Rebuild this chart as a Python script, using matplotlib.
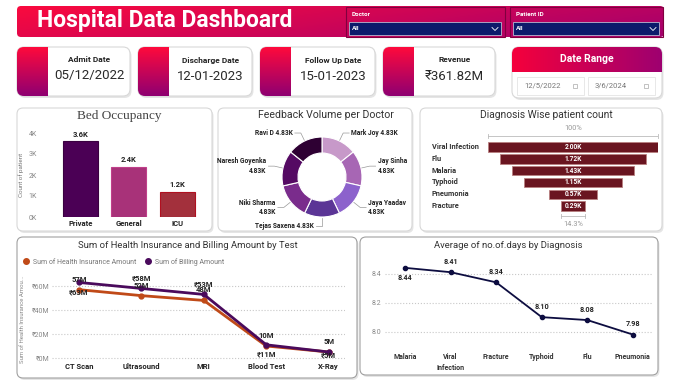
import matplotlib
matplotlib.use('Agg')
import matplotlib.pyplot as plt
import numpy as np
from matplotlib.patches import FancyBboxPatch, Rectangle
from matplotlib.colors import LinearSegmentedColormap
from matplotlib.lines import Line2D

plt.rcParams['font.family'] = ['Roboto', 'DejaVu Sans']

W, H = 680, 382

# ---- data ----
kpi_labels = ['Admit Date', 'Discharge Date', 'Follow Up Date', 'Revenue']
kpi_values = ['05/12/2022', '12-01-2023', '15-01-2023', '₹361.82M']
date_from, date_to = '12/5/2022', '3/6/2024'

bed_types = ['Private', 'General', 'ICU']
bed_counts = [3600, 2400, 1200]

doctors = ['Mark Joy', 'Jay Sinha', 'Jaya Yaadav', 'Tejas Saxena',
           'Niki Sharma', 'Naresh Goyenka', 'Ravi D']
feedback = [4830, 4830, 4830, 4830, 4830, 4830, 4830]

diagnoses = ['Viral Infection', 'Flu', 'Malaria', 'Typhoid', 'Pneumonia', 'Fracture']
diag_counts = [2000, 1720, 1430, 1150, 570, 286]

tests = ['CT Scan', 'Ultrasound', 'MRI', 'Blood Test', 'X-Ray']
insurance = [57, 52, 48, 10, 5]
billing = [63, 58, 53, 11, 5]

stay_diag = ['Malaria', 'Viral\nInfection', 'Fracture', 'Typhoid', 'Flu', 'Pneumonia']
avg_days = [8.44, 8.41, 8.34, 8.10, 8.08, 7.98]

fig = plt.figure(figsize=(6.8, 3.82), dpi=100)
bg = fig.add_axes([0, 0, 1, 1])
bg.axis('off')


def frac(x, y, w, h):
    return [x / W, 1 - (y + h) / H, w / W, h / H]


def rbox(x, y, w, h, r, **kw):
    return FancyBboxPatch((x, y), w, h, boxstyle=f'round,pad=0,rounding_size={r}', **kw)


def gradient(x, y, w, h, c1, c2, mode='h', clip=None, z=2):
    if mode == 'h':
        arr = np.linspace(0, 1, 256)[None, :]
    elif mode == 'v':
        arr = np.linspace(0, 1, 256)[:, None]
    else:
        X, Y = np.meshgrid(np.linspace(0, 1, 256), np.linspace(0, 1, 64))
        arr = 0.75 * X + 0.25 * Y
    cmap = LinearSegmentedColormap.from_list('g', [c1, c2])
    im = bg.imshow(arr, cmap=cmap, extent=(x, x + w, y + h, y), aspect='auto',
                   zorder=z, interpolation='bilinear')
    if clip is not None:
        bg.add_patch(clip)
        im.set_clip_path(clip)


def card(x, y, w, h, r=6, edge='#d8d8d8'):
    bg.add_patch(rbox(x + 1.5, y + 2, w, h, r, fc='#000000', alpha=0.10, ec='none', zorder=0.5))
    p = rbox(x, y, w, h, r, fc='white', ec=edge, lw=0.8, zorder=1)
    bg.add_patch(p)
    return p


# ---- header ----
gradient(17, 6, 647, 31, '#fa0a3e', '#a3006e', 'd',
         clip=rbox(17, 6, 647, 31, 4, fc='none', ec='none'))
bg.text(165, 20, 'Hospital Data Dashboard', color='white', fontsize=16.5,
        fontweight='bold', ha='center', va='center', zorder=3)
for sx, sw, lab in [(346, 159, 'Doctor'), (510, 153, 'Patient ID')]:
    bg.add_patch(Rectangle((sx, 7), sw, 30, fc='none', ec='#80003f', lw=0.8, zorder=3))
    bg.text(sx + 6, 14, lab, color='white', fontsize=4.5, fontweight='bold',
            ha='left', va='center', zorder=3)
    bg.add_patch(Rectangle((sx + 3, 22), sw - 7, 13, fc='#0c1a6b', ec='#b8b8d0', lw=0.6, zorder=3))
    bg.text(sx + 6, 29, 'All', color='white', fontsize=4.5, fontweight='bold',
            ha='left', va='center', zorder=4)
    ex = sx + sw - 10
    bg.plot([ex - 3, ex, ex + 3], [27.5, 30.5, 27.5], color='white', lw=0.6, zorder=4)

# ---- KPI cards ----
kx = [17, 138, 260, 383]
kw = [113, 114, 115, 112]
for x, w, lab, val in zip(kx, kw, kpi_labels, kpi_values):
    p = card(x, 47, w, 49, r=7)
    gradient(x, 47, 31, 49, '#ff0a3c', '#8e0072', 'v',
             clip=rbox(x, 47, w, 49, 7, fc='none', ec='none'))
    cx = x + 31 + (w - 31) / 2
    bg.text(cx, 60, lab, fontsize=6, fontweight='semibold', color='#222222',
            ha='center', va='center', zorder=3)
    bg.text(cx, 76, val, fontsize=9.5, color='#2a2a2a',
            ha='center', va='center', zorder=3)

# date range card
card(512, 47, 150, 51, r=7)
gradient(512, 47, 150, 25, '#f5003c', '#9e0070', 'h',
         clip=rbox(512, 47, 150, 51, 7, fc='none', ec='none'))
bg.text(587, 59.5, 'Date Range', color='white', fontsize=7.5, fontweight='bold',
        ha='center', va='center', zorder=3)
for bx, d in [(517, date_from), (588, date_to)]:
    bg.add_patch(Rectangle((bx, 77), 67, 18, fc='white', ec='#e4e4e4', lw=0.6, zorder=2))
    bg.text(bx + 7, 86, d, fontsize=5.5, color='#777777', ha='left', va='center', zorder=3)
    bg.add_patch(Rectangle((bx + 56, 84), 4, 4, fc='none', ec='#aaaaaa', lw=0.5, zorder=3))

# ---- panels ----
card(17, 108, 195, 123)
card(218, 108, 194, 123)
card(420, 108, 242, 123)
card(17, 237, 340, 141, r=6, edge='#a0a0a0')
card(360, 237, 298, 138, r=6, edge='#a0a0a0')

# ---- Bed occupancy ----
bg.text(119, 115.5, 'Bed Occupancy', family='Liberation Serif', fontsize=9.5,
        color='#444444', ha='center', va='center', zorder=3)
ax1 = fig.add_axes(frac(45, 133, 155, 84))
ax1.bar(range(3), bed_counts, width=0.72, color=['#4b0055', '#a83279', '#a3303c'],
        edgecolor=['#3a0040', '#c0408a', '#b01020'], lw=0.8)
for i, v in enumerate(bed_counts):
    ax1.text(i, v + 180, f'{v / 1000:.1f}K', ha='center', va='bottom',
             fontsize=5.5, fontweight='bold', color='#222222')
ax1.set_xlim(-0.725, 2.46)
ax1.set_ylim(0, 4000)
ax1.set_yticks([0, 1000, 2000, 3000, 4000])
ax1.set_yticklabels([f'{v // 1000}K' for v in [0, 1000, 2000, 3000, 4000]])
ax1.set_xticks(range(3))
ax1.set_xticklabels(bed_types, fontweight='bold')
ax1.tick_params(axis='y', length=0, labelsize=5, labelcolor='#888888', pad=6)
ax1.tick_params(axis='x', length=0, labelsize=5.5, labelcolor='#222222', pad=2)
ax1.set_ylabel('Count of patient', fontsize=4.5, color='#777777')
ax1.yaxis.set_label_coords(-0.135, 0.5)
for s in ax1.spines.values():
    s.set_visible(False)
ax1.patch.set_alpha(0)

# ---- Feedback donut ----
bg.text(326, 115.5, 'Feedback Volume per Doctor', fontsize=7.6, color='#333333',
        ha='center', va='center', zorder=3)
ax2 = fig.add_axes(frac(222, 127, 200, 100))
donut_cols = ['#c799c9', '#a766b4', '#8c62cc', '#5b3596', '#7a2c8c', '#550a63', '#2e0033']
ax2.pie(feedback, colors=donut_cols, startangle=90, counterclock=False, radius=1,
        wedgeprops=dict(width=0.4, edgecolor='white', linewidth=0.8))
ax2.set_aspect('auto')
ax2.set_xlim(-2.5, 2.5)
ax2.set_ylim(-1.25, 1.25)
ax2.axis('off')
one_line = [True, False, False, True, False, False, True]
total = sum(feedback)
ang = 90.0
for name, v, inline in zip(doctors, feedback, one_line):
    span = v / total * 360
    mid = np.radians(ang - span / 2)
    ang -= span
    c, s = np.cos(mid), np.sin(mid)
    p0 = (1.02 * c, 1.02 * s)
    p1 = (1.22 * c, 1.22 * s)
    side = 1 if c > 0.01 else -1
    p2 = (p1[0] + side * 0.15, p1[1])
    ax2.plot([p0[0], p1[0], p2[0]], [p0[1], p1[1], p2[1]], color='#999999', lw=0.5,
             clip_on=False)
    txt = f'{name} {v / 1000:.2f}K' if inline else f'{name}\n{v / 1000:.2f}K'
    ax2.text(p2[0] + side * 0.05, p2[1], txt, ha='left' if side > 0 else 'right',
             va='center', fontsize=4.8, fontweight='bold', color='#222222',
             linespacing=1.3, clip_on=False)

# ---- Diagnosis funnel ----
bg.text(546, 115.5, 'Diagnosis Wise patient count', fontsize=7.4, color='#333333',
        ha='center', va='center', zorder=3)
ax3 = fig.add_axes(frac(488, 120, 170, 112))
dc = np.array(diag_counts)
ax3.barh(range(len(dc)), dc, left=-dc / 2, height=0.8, color='#6a1520',
         edgecolor='#b88080', lw=0.6)
for i, v in enumerate(dc):
    ax3.text(0, i, f'{v / 1000:.2f}K', ha='center', va='center', fontsize=4.8,
             fontweight='bold', color='white')
    ax3.text(-1659, i, diagnoses[i], ha='left', va='center', fontsize=5.3,
             fontweight='bold', color='#333333', clip_on=False)
ax3.set_xlim(-1000, 1000)
ax3.set_ylim(7.2, -2.29)
top, bot = dc[0] / 2, dc[-1] / 2
ax3.plot([-top, top], [-0.93, -0.93], color='#bbbbbb', lw=0.6)
ax3.plot([-top, -top], [-1.1, -0.76], color='#bbbbbb', lw=0.6)
ax3.plot([top, top], [-1.1, -0.76], color='#bbbbbb', lw=0.6, clip_on=False)
ax3.text(0, -1.55, '100%', ha='center', va='center', fontsize=5.3, color='#999999')
ax3.plot([-bot, bot], [5.85, 5.85], color='#bbbbbb', lw=0.6)
ax3.plot([-bot, -bot], [5.68, 6.02], color='#bbbbbb', lw=0.6)
ax3.plot([bot, bot], [5.68, 6.02], color='#bbbbbb', lw=0.6)
ax3.text(0, 6.6, f'{dc[-1] / dc[0] * 100:.1f}%', ha='center', va='center',
         fontsize=5.3, color='#999999')
ax3.axis('off')

# ---- Insurance vs billing ----
bg.text(188, 246, 'Sum of Health Insurance and Billing Amount by Test', fontsize=6.8,
        color='#333333', ha='center', va='center', zorder=3)
ax4 = fig.add_axes(frac(52, 272, 293, 90))
xi = np.arange(len(tests))
ins_col, bill_col = '#c04a18', '#4a0a5c'
ax4.plot(xi, insurance, color=ins_col, lw=2, marker='o', ms=3.5, zorder=3)
ax4.plot(xi, billing, color=bill_col, lw=2, marker='o', ms=3.5, zorder=4)
for i, v in enumerate(insurance):
    ax4.annotate(f'{v}M', (i, v), xytext=(0, 7.6), textcoords='offset points',
                 ha='center', va='center', fontsize=5.5, fontweight='bold', color='#222222',
                 zorder=5)
bill_off = [-6.9, 7.5, 7.3, -6.6, -2.5]
for i, (v, off) in enumerate(zip(billing, bill_off)):
    ax4.annotate(f'₹{v}M', (i, v), xytext=(0, off), textcoords='offset points',
                 ha='center', va='center', fontsize=5.5, fontweight='bold', color='#222222',
                 zorder=5)
ax4.set_xlim(-0.43, 4.26)
ax4.set_ylim(-3.33, 71.7)
ax4.set_yticks([0, 20, 40, 60])
ax4.set_yticklabels([f'₹{v}M' for v in [0, 20, 40, 60]])
ax4.set_xticks(xi)
ax4.set_xticklabels(tests, fontweight='bold')
ax4.yaxis.grid(True, ls=':', color='#c8c8c8', lw=0.8)
ax4.tick_params(axis='y', length=0, labelsize=5, labelcolor='#888888', pad=2)
ax4.tick_params(axis='x', length=0, labelsize=5.5, labelcolor='#222222', pad=1)
ax4.set_ylabel('Sum of Health Insurance Amou...', fontsize=4.3, color='#888888')
ax4.yaxis.set_label_coords(-0.092, 0.48)
for s in ax4.spines.values():
    s.set_visible(False)
ax4.patch.set_alpha(0)
handles = [Line2D([], [], ls='none', marker='o', ms=4, color=ins_col),
           Line2D([], [], ls='none', marker='o', ms=4, color=bill_col)]
fig.legend(handles, ['Sum of Health Insurance Amount', 'Sum of Billing Amount'],
           loc='center left', bbox_to_anchor=(19 / W, 1 - 262 / H), ncol=2, frameon=False,
           fontsize=5, labelcolor='#777777', handletextpad=0.05, columnspacing=0.6,
           borderaxespad=0, borderpad=0)

# ---- Average days ----
bg.text(508, 246, 'Average of no.of.days by Diagnosis', fontsize=6.8, color='#333333',
        ha='center', va='center', zorder=3)
ax5 = fig.add_axes(frac(385, 250, 267, 95))
xs = np.arange(len(avg_days))
ax5.plot(xs, avg_days, color='#0d0d40', lw=1.3, marker='o', ms=3, zorder=3)
day_off = [-7.4, 7.3, 7.3, 7.3, 7.3, 7.3]
for i, (v, off) in enumerate(zip(avg_days, day_off)):
    ax5.annotate(f'{v:.2f}', (i, v), xytext=(0, off), textcoords='offset points',
                 ha='center', va='center', fontsize=5.2, fontweight='bold', color='#222222')
ax5.set_xlim(-0.44, 5.42)
ax5.set_ylim(7.908, 8.563)
ax5.set_yticks([8.0, 8.2, 8.4])
ax5.set_yticklabels(['8.0', '8.2', '8.4'])
ax5.set_xticks(xs)
ax5.set_xticklabels(stay_diag, fontweight='bold', linespacing=1.4)
ax5.yaxis.grid(True, ls=':', color='#c8c8c8', lw=0.8)
ax5.tick_params(axis='y', length=0, labelsize=5, labelcolor='#888888', pad=3)
ax5.tick_params(axis='x', length=0, labelsize=5, labelcolor='#333333', pad=6)
for s in ax5.spines.values():
    s.set_visible(False)
ax5.patch.set_alpha(0)

bg.set_xlim(0, W)
bg.set_ylim(H, 0)

fig.savefig('out.png', dpi=100, facecolor='white')
